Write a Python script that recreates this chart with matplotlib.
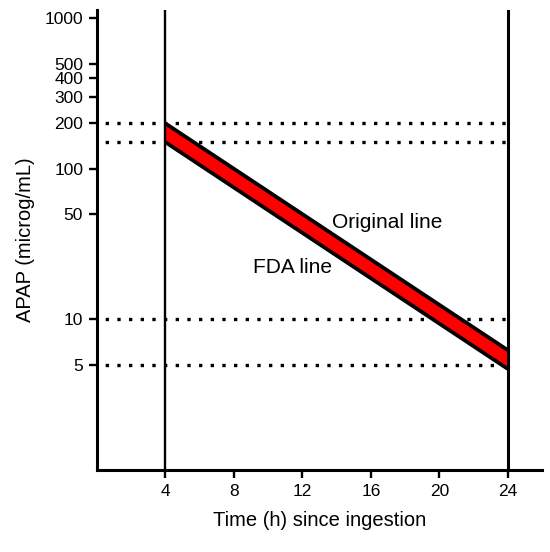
import matplotlib
matplotlib.use('Agg')
import matplotlib.pyplot as plt

plt.rcParams['font.family'] = ['Liberation Sans', 'DejaVu Sans']

# nomogram lines (h, microg/mL)
hours = [4, 24]
original_line = [200, 6.25]
fda_line = [150, 4.69]

# reference levels (dotted) and vertical time limits
ref_levels = [200, 150, 10, 5]
time_limits = [4, 24]

xticks = [4, 8, 12, 16, 20, 24]
yticks = [5, 10, 50, 100, 200, 300, 400, 500, 1000]

fig = plt.figure(figsize=(5.5, 5.52), dpi=100)
ax = fig.add_axes([0.1764, 0.1486, 0.809, 0.834])
ax.set_yscale('log')

for lev in ref_levels:
    ax.plot([0, 24], [lev, lev], color='black', lw=2.4,
            linestyle=(1.05, (1, 2.5)), zorder=2)

ax.fill_between(hours, fda_line, original_line, color='#ff0000', lw=0, zorder=3)
ax.plot(hours, original_line, color='black', lw=2.7, zorder=4, solid_capstyle='butt')
ax.plot(hours, fda_line, color='black', lw=2.7, zorder=4, solid_capstyle='butt')

ax.axvline(time_limits[0], color='black', lw=1.7, zorder=5)
ax.axvline(time_limits[1], color='black', lw=2.2, zorder=5)

ax.text(13.74, 43.9, 'Original line', fontsize=15, va='center', ha='left')
ax.text(9.13, 22.1, 'FDA line', fontsize=15, va='center', ha='left')

ax.set_xlim(0, 26)
ax.set_ylim(1, 1140)
ax.set_xticks(xticks)
ax.set_xticklabels([str(t) for t in xticks])
ax.set_yticks(yticks)
ax.set_yticklabels([str(t) for t in yticks])
ax.minorticks_off()

for s in ['top', 'right']:
    ax.spines[s].set_visible(False)
for s in ['left', 'bottom']:
    ax.spines[s].set_linewidth(2.2)
ax.tick_params(axis='both', width=1.7, length=6, labelsize=12.5, direction='out', pad=4)

ax.set_xlabel('Time (h) since ingestion', fontsize=14.5, labelpad=9)
ax.set_ylabel('APAP (microg/mL)', fontsize=14.5, labelpad=7)

fig.savefig('out.png', dpi=100)
